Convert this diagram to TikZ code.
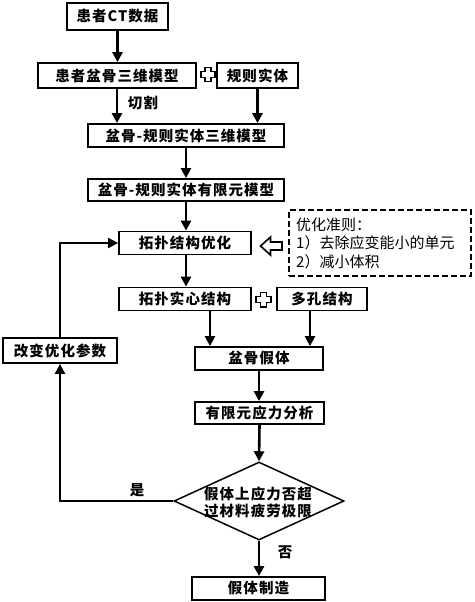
\documentclass[tikz,border=0pt]{standalone}
\usepackage{fontspec}
\setmainfont{Noto Sans CJK SC}[LetterSpace=7]
\newfontfamily\plaincjk{Noto Sans CJK SC}
\usetikzlibrary{arrows.meta,shapes.geometric}
\begin{document}
\begin{tikzpicture}[x=1pt,y=-1pt,
  box/.style={draw,line width=1.8pt,inner sep=0pt,font=\fontsize{14.5pt}{17pt}\selectfont\bfseries},
  arr/.style={line width=2.6pt,-{Triangle[length=10pt,width=10pt]}},
  lbl/.style={inner sep=0pt,font=\fontsize{14.5pt}{17pt}\selectfont\bfseries},
  plusshape/.style={draw,line width=1.4pt,fill=white,line join=miter}]
\useasboundingbox (0,0) rectangle (474,602);
\node[box,minimum width=101pt,minimum height=27pt] (b1) at (117.5,16.5) {患者CT数据};
\node[box,minimum width=158pt,minimum height=25pt] (b2) at (117,75.5) {患者盆骨三维模型};
\node[box,minimum width=81pt,minimum height=25pt] (b3) at (257.5,75.5) {规则实体};
\node[box,minimum width=196pt,minimum height=23pt] (b4) at (186,135.5) {盆骨-规则实体三维模型};
\node[box,minimum width=196pt,minimum height=22pt] (b5) at (186,190) {盆骨-规则实体有限元模型};
\node[box,minimum width=132pt,minimum height=23pt] (b6) at (185,243) {拓扑结构优化};
\node[box,minimum width=132pt,minimum height=23pt] (b7) at (185,299) {拓扑实心结构};
\node[box,minimum width=90pt,minimum height=23pt] (b8) at (322,299) {多孔结构};
\node[box,minimum width=128pt,minimum height=23pt] (b9) at (259,358.5) {盆骨假体};
\node[box,minimum width=129pt,minimum height=22pt] (b10) at (259.5,413) {有限元应力分析};
\node[draw,diamond,line width=1.5pt,inner sep=0pt,minimum width=170pt,minimum height=78pt] (d) at (259,501) {};
\node[lbl,align=center] (dt) at (258,502) {假体上应力否超\\过材料疲劳极限};
\node[box,minimum width=133pt,minimum height=23pt] (b11) at (258.5,588.5) {假体制造};
\node[box,minimum width=114pt,minimum height=25pt] (b12) at (60,350.5) {改变优化参数};
\node[draw,dashed,dash pattern=on 6pt off 3pt,line width=2pt,minimum width=182pt,minimum height=66pt,inner sep=0pt] (crit) at (380,243) {};
\node[inner sep=0pt,anchor=west,align=left,font=\plaincjk\fontsize{15pt}{18.5pt}\selectfont] (ct) at (296,243) {优化准则：\\1）去除应变能小的单元\\2）减小体积};
\node[lbl] (cut) at (143,103) {切割};
\node[lbl] (yes) at (137,490) {是};
\node[lbl] (no) at (285,552) {否};
% arrows
\draw[arr] (b1.south) -- (b1.south |- b2.north);
\draw[arr] (b2.south) -- (b2.south |- b4.north);
\draw[arr] (b3.south) -- (b3.south |- b4.north);
\draw[arr] (b4.south) -- (b4.south |- b5.north);
\draw[arr] (b5.south) -- (b5.south |- b6.north);
\draw[arr] (b5.south |- b6.south) -- (b5.south |- b7.north);
\coordinate (s7) at (210,310.5);
\coordinate (s8) at (310,310.5);
\draw[arr] (s7) -- (s7 |- b9.north);
\draw[arr] (s8) -- (s8 |- b9.north);
\draw[arr] (b9.south) -- (b9.south |- b10.north);
\draw[arr] (b10.south) -- (d.north);
\draw[arr] (d.south) -- (d.south |- b11.north);
\coordinate (lc) at (60,501);
\draw[arr,line width=2pt] (d.west) -- (lc) -- (b12.south);
\draw[arr,line width=2pt] (b12.north) |- (b6.west);
% plus signs
\draw[plusshape] (205,67.5) -- (211,67.5) -- (211,71.5) -- (215,71.5) -- (215,77.5) -- (211,77.5) -- (211,81.5) -- (205,81.5) -- (205,77.5) -- (201,77.5) -- (201,71.5) -- (205,71.5) -- cycle;
\draw[plusshape] (260.5,292.5) -- (266.5,292.5) -- (266.5,296.5) -- (271,296.5) -- (271,302.5) -- (266.5,302.5) -- (266.5,307) -- (260.5,307) -- (260.5,302.5) -- (256,302.5) -- (256,296.5) -- (260.5,296.5) -- cycle;
% hollow arrow
\draw[line width=1.6pt,fill=white,line join=miter] (260.5,246) -- (270.5,237) -- (270.5,242) -- (282,242) -- (282,250) -- (270.5,250) -- (270.5,255) -- cycle;
\end{tikzpicture}
\end{document}
